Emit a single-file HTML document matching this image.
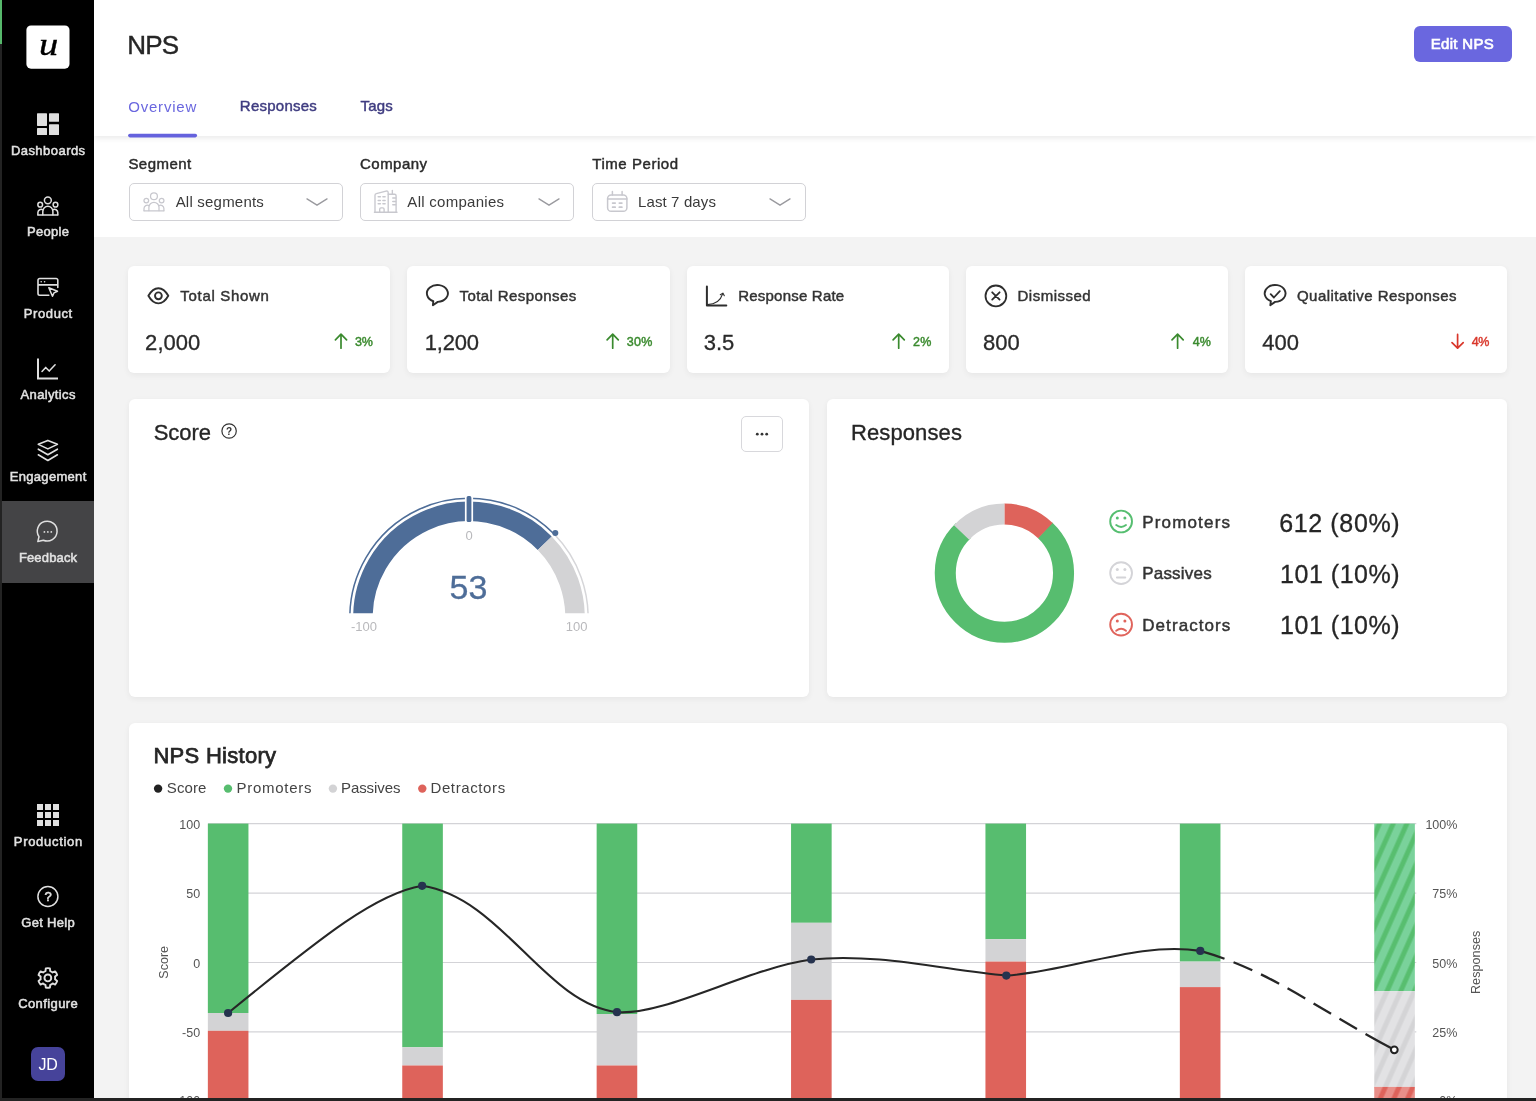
<!DOCTYPE html>
<html lang="en"><head><meta charset="utf-8"><title>NPS</title>
<style>
html,body{margin:0;padding:0}
body{width:1536px;height:1101px;overflow:hidden;position:relative;background:#f3f3f3;font-family:"Liberation Sans", "DejaVu Sans", sans-serif;-webkit-font-smoothing:antialiased}
.t{position:absolute;line-height:1;white-space:nowrap}
.abs{position:absolute}
.card{position:absolute;background:#fff;border-radius:6px;box-shadow:0 2px 6px rgba(0,0,0,0.055)}
.sel{position:absolute;box-sizing:border-box;height:38px;width:214px;border:1px solid #d2d2d6;border-radius:5px;background:#fff}
svg{position:absolute;overflow:visible}
nav .lbl{position:absolute;left:0;width:92px;text-align:center;font-size:13px;font-weight:normal;-webkit-text-stroke:0.5px #e2e2e2;color:#e2e2e2;line-height:1;white-space:nowrap}
</style></head><body>

<div class="abs" style="left:0;top:0;width:2px;height:1101px;background:#232323"></div>
<div class="abs" style="left:0;top:0;width:2px;height:43.5px;background:#56b86b"></div>
<nav class="abs" style="left:2px;top:0;width:92.3px;height:1101px;background:#000">
<svg style="left:-2px;top:0" width="10" height="10"><rect x="26.4" y="25.4" width="43.1" height="43.3" rx="4.6" fill="#fff"/></svg>
<span class="t" style="left:24.8px;width:43px;text-align:center;top:28px;font-family:'Liberation Serif','DejaVu Serif',serif;font-style:italic;font-size:32px;color:#000;-webkit-text-stroke:0.4px #000;transform:scaleX(1.2)">u</span>
<div class="abs" style="left:0;top:501.4px;width:92.3px;height:81.6px;background:#444446"></div>
<svg style="left:-2px;top:0" width="96" height="1101" viewBox="0 0 96 1101" fill="none" stroke="#e0e0e0" stroke-width="1.6" stroke-linecap="round" stroke-linejoin="round">
<g fill="#e0e0e0" stroke="none"><rect x="37" y="113.2" width="10" height="12.7" rx=".6"/><rect x="37" y="127.9" width="10" height="7.2" rx=".6"/><rect x="49" y="113.2" width="10" height="8.6" rx=".6"/><rect x="49" y="124.3" width="10" height="10.8" rx=".6"/></g>
<g transform="translate(37,195)" stroke="#e0e0e0" stroke-width="1.5"><circle cx="10.85" cy="5.35" r="3.45"/><circle cx="3.2" cy="9.7" r="2.35"/><circle cx="18.5" cy="9.7" r="2.35"/><path d="M5.8 19.8V16.4A5.05 5.05 0 0 1 15.9 16.4V19.8"/><path d="M0.9 19.8V17.6A3.3 3.3 0 0 1 5.9 14.8"/><path d="M20.8 19.8V17.6A3.3 3.3 0 0 0 15.8 14.8"/><path d="M0.9 19.9H20.8"/></g>
<path d="M57.8 287.4V280.2a1.7 1.7 0 0 0-1.7-1.7H39.7a1.7 1.7 0 0 0-1.7 1.7V293.6a1.7 1.7 0 0 0 1.7 1.7H48.8M38 284.85H57.8" stroke-width="1.6"/>
<circle cx="41.2" cy="281.8" r=".8" fill="#e0e0e0" stroke="none"/><circle cx="44.6" cy="281.8" r=".8" fill="#e0e0e0" stroke="none"/>
<path d="M48.8 287.7L57.5 291.3L54 292.9L52.5 296.2Z" stroke-width="1.5"/>
<path d="M38 358.6V378.6H58" stroke-width="2" stroke-linecap="butt" stroke-linejoin="miter"/><path d="M42 371.5L45.7 367.4L49.2 371.1L55.1 364.8" stroke-width="1.5"/>
<path d="M38.3 444.35L47.85 440.4L57.4 444.35L47.85 448.85Z"/><path d="M38.3 449.2L47.85 454.8L57.4 449.2"/><path d="M38.3 454.8L47.85 460.5L57.4 454.8"/>
<path d="M39.0 536.7A9.9 9.9 0 1 1 43.35 540.25L37.8 541.6Z" stroke-width="1.5"/>
<g fill="#e0e0e0" stroke="none"><circle cx="44.4" cy="531.9" r=".9"/><circle cx="47.85" cy="531.9" r=".9"/><circle cx="51.3" cy="531.9" r=".9"/></g>
<g fill="#e0e0e0" stroke="none"><rect x="37" y="804" width="6" height="6"/><rect x="45" y="804" width="6" height="6"/><rect x="53" y="804" width="6" height="6"/><rect x="37" y="812" width="6" height="6"/><rect x="45" y="812" width="6" height="6"/><rect x="53" y="812" width="6" height="6"/><rect x="37" y="820" width="6" height="6"/><rect x="45" y="820" width="6" height="6"/><rect x="53" y="820" width="6" height="6"/></g>
<circle cx="47.9" cy="896.5" r="10" stroke-width="1.5"/>
<path d="M45.47 971.05L45.81 968.36A9.8 9.8 0 0 1 49.89 968.36L50.23 971.05A7.3 7.3 0 0 1 52.64 972.44L52.64 972.44L55.13 971.39A9.8 9.8 0 0 1 57.17 974.92L55.02 976.56A7.3 7.3 0 0 1 55.02 979.34L55.02 979.34L57.17 980.98A9.8 9.8 0 0 1 55.13 984.51L52.64 983.46A7.3 7.3 0 0 1 50.23 984.85L50.23 984.85L49.89 987.54A9.8 9.8 0 0 1 45.81 987.54L45.47 984.85A7.3 7.3 0 0 1 43.06 983.46L43.06 983.46L40.57 984.51A9.8 9.8 0 0 1 38.53 980.98L40.68 979.34A7.3 7.3 0 0 1 40.68 976.56L40.68 976.56L38.53 974.92A9.8 9.8 0 0 1 40.57 971.39L43.06 972.44A7.3 7.3 0 0 1 45.47 971.05Z" stroke-width="1.9"/><circle cx="47.85" cy="977.95" r="3.4" stroke-width="1.9"/>
</svg>
<span class="lbl" style="top:144px;letter-spacing:0.46px;padding-left:0.46px;box-sizing:border-box">Dashboards</span>
<span class="lbl" style="top:225px;letter-spacing:0.311px;padding-left:0.311px;box-sizing:border-box">People</span>
<span class="lbl" style="top:307px;letter-spacing:0.577px;padding-left:0.577px;box-sizing:border-box">Product</span>
<span class="lbl" style="top:388px;letter-spacing:0.373px;padding-left:0.373px;box-sizing:border-box">Analytics</span>
<span class="lbl" style="top:470px;letter-spacing:0.315px;padding-left:0.315px;box-sizing:border-box">Engagement</span>
<span class="lbl" style="top:551px;letter-spacing:0.163px;padding-left:0.163px;box-sizing:border-box">Feedback</span>
<span class="lbl" style="top:835px;letter-spacing:0.694px;padding-left:0.694px;box-sizing:border-box">Production</span>
<span class="lbl" style="top:916px;letter-spacing:0.312px;padding-left:0.312px;box-sizing:border-box">Get Help</span>
<span class="lbl" style="top:997px;letter-spacing:0.419px;padding-left:0.419px;box-sizing:border-box">Configure</span>
<span class="lbl" style="top:890px;font-size:13px">?</span>
<div class="abs" style="left:29px;top:1046.5px;width:34px;height:34.3px;border-radius:7px;background:#46439a"></div>
<span class="lbl" style="top:1057px;font-size:16px;font-weight:normal;-webkit-text-stroke:0;color:#fff;letter-spacing:-0.3px">JD</span>
</nav>
<header class="abs" style="left:94.3px;top:0;width:1441.7px;height:136px;background:#fff;box-shadow:0 2px 6px rgba(0,0,0,0.09);z-index:2"></header>
<div class="abs" style="left:94.3px;top:0;width:1441.7px;height:237.3px;background:#fff"></div>
<div class="abs" style="z-index:3;left:0;top:0">
<span class="t " style="left:127.27px;top:32px;font-size:26px;font-weight:normal;color:#262626;letter-spacing:-0.827px;-webkit-text-stroke:0.4px #262626;">NPS</span>
<span class="t " style="left:128.24px;top:99px;font-size:15px;font-weight:normal;color:#6a67df;letter-spacing:0.786px;">Overview</span>
<span class="t " style="left:239.82px;top:98px;font-size:15px;font-weight:normal;color:#3f3c80;-webkit-text-stroke:0.45px #3f3c80;letter-spacing:0.241px;">Responses</span>
<span class="t " style="left:360.52px;top:98px;font-size:15px;font-weight:normal;color:#3f3c80;-webkit-text-stroke:0.45px #3f3c80;letter-spacing:0.197px;">Tags</span>
<svg style="left:0;top:0" width="10" height="10"><rect x="128.1" y="133.8" width="69" height="3.6" rx="1.8" fill="#6562dd"/></svg>
<div class="abs" style="left:1413.5px;top:25.5px;width:98px;height:36.8px;border-radius:6px;background:#6a67df"></div>
<span class="t " style="left:1430.67px;top:36px;font-size:15px;font-weight:normal;color:#fff;letter-spacing:0.321px;-webkit-text-stroke:0.65px #fff;">Edit NPS</span>
</div>
<section class="abs" style="left:0;top:0;z-index:1">
<span class="t " style="left:128.38px;top:156px;font-size:15px;font-weight:normal;color:#2b2b2b;-webkit-text-stroke:0.45px #2b2b2b;letter-spacing:0.473px;">Segment</span><div class="sel" style="left:128.6px;top:182.6px"></div><span class="t " style="left:175.67px;top:194px;font-size:15px;font-weight:normal;color:#3a3a3a;letter-spacing:0.209px;">All segments</span><svg style="left:306.0px;top:198.2px" width="22" height="9" viewBox="0 0 22 9" fill="none" stroke="#9a9a9f" stroke-width="1.4" stroke-linecap="round" stroke-linejoin="round"><path d="M1 0.9L11 7.2L21 0.9"/></svg><svg style="left:0;top:0" width="10" height="10" fill="none" stroke-linecap="round" stroke-linejoin="round"><g transform="translate(143.1,190.9)" stroke="#c8c8ce" stroke-width="1.25"><circle cx="10.85" cy="5.35" r="3.45"/><circle cx="3.2" cy="9.7" r="2.35"/><circle cx="18.5" cy="9.7" r="2.35"/><path d="M5.8 19.8V16.4A5.05 5.05 0 0 1 15.9 16.4V19.8"/><path d="M0.9 19.8V17.6A3.3 3.3 0 0 1 5.9 14.8"/><path d="M20.8 19.8V17.6A3.3 3.3 0 0 0 15.8 14.8"/><path d="M0.9 19.9H20.8"/></g></svg>
<span class="t " style="left:360.00px;top:156px;font-size:15px;font-weight:normal;color:#2b2b2b;-webkit-text-stroke:0.45px #2b2b2b;letter-spacing:0.48px;">Company</span><div class="sel" style="left:360.3px;top:182.6px"></div><span class="t " style="left:407.37px;top:194px;font-size:15px;font-weight:normal;color:#3a3a3a;letter-spacing:0.275px;">All companies</span><svg style="left:537.7px;top:198.2px" width="22" height="9" viewBox="0 0 22 9" fill="none" stroke="#9a9a9f" stroke-width="1.4" stroke-linecap="round" stroke-linejoin="round"><path d="M1 0.9L11 7.2L21 0.9"/></svg><svg style="left:0;top:0" width="10" height="10" fill="none" stroke="#c8c8ce" stroke-width="1.35" stroke-linecap="round" stroke-linejoin="round"><path d="M375 212.1V195.2Q375 193.9 376.3 193.6L386 191.1Q388.2 190.6 388.2 193V212.1"/><path d="M388.2 194.2H394.6Q396.1 194.2 396.1 195.7V212.1"/><path d="M392.35 190.5V194.2"/><path d="M374.4 212.2H397"/><path d="M379.7 212V209.2Q379.7 207.8 381 207.8H382.8Q384.1 207.8 384.1 209.2V212"/><path d="M378.2 196.8H380.4M382.9 196.8H385.1M378.2 200.4H380.4M382.9 200.4H385.1M378.2 203.7H380.4M382.9 203.7H385.1" stroke-width="1.5"/><path d="M392.8 197.9H395.6M392.8 201.5H395.6M392.8 204.8H395.6" stroke-width="1.5"/></svg>
<span class="t " style="left:592.32px;top:156px;font-size:15px;font-weight:normal;color:#2b2b2b;-webkit-text-stroke:0.45px #2b2b2b;letter-spacing:0.539px;">Time Period</span><div class="sel" style="left:591.6px;top:182.6px"></div><span class="t " style="left:637.97px;top:194px;font-size:15px;font-weight:normal;color:#3a3a3a;letter-spacing:0.126px;">Last 7 days</span><svg style="left:769.0px;top:198.2px" width="22" height="9" viewBox="0 0 22 9" fill="none" stroke="#9a9a9f" stroke-width="1.4" stroke-linecap="round" stroke-linejoin="round"><path d="M1 0.9L11 7.2L21 0.9"/></svg><svg style="left:0;top:0" width="10" height="10" fill="none" stroke="#c8c8ce" stroke-width="1.5" stroke-linecap="round" stroke-linejoin="round"><rect x="607.6" y="194.9" width="19.3" height="16.45" rx="3.6"/><path d="M607.6 198.9H626.9"/><path d="M612.4 191.4V194.9M622.1 191.4V194.9"/><path d="M612.6 203.1H615.2M619.3 203.1H621.9M612.6 207.15H615.2M619.3 207.15H621.9" stroke-width="1.7"/></svg>
</section>
<section class="abs" style="left:0;top:0">
<div class="card" style="left:128.2px;top:266.1px;width:262.3px;height:107.1px"></div><span class="t " style="left:180.32px;top:288px;font-size:15px;font-weight:normal;color:#333;-webkit-text-stroke:0.45px #333;letter-spacing:0.687px;">Total Shown</span><span class="t " style="left:145.10px;top:332px;font-size:22px;font-weight:normal;color:#2a2a2a;letter-spacing:0.048px;-webkit-text-stroke:0.3px #2a2a2a;">2,000</span><span class="t " style="left:354.97px;top:336px;font-size:12.5px;font-weight:normal;color:#3a8a2e;-webkit-text-stroke:0.45px #3a8a2e;letter-spacing:-0.05px;">3%</span>
<div class="card" style="left:407.4px;top:266.1px;width:262.3px;height:107.1px"></div><span class="t " style="left:459.52px;top:288px;font-size:15px;font-weight:normal;color:#333;-webkit-text-stroke:0.45px #333;letter-spacing:0.412px;">Total Responses</span><span class="t " style="left:424.73px;top:332px;font-size:22px;font-weight:normal;color:#2a2a2a;letter-spacing:-0.184px;-webkit-text-stroke:0.3px #2a2a2a;">1,200</span><span class="t " style="left:626.77px;top:336px;font-size:12.5px;font-weight:normal;color:#3a8a2e;-webkit-text-stroke:0.45px #3a8a2e;letter-spacing:0.25px;">30%</span>
<div class="card" style="left:686.6px;top:266.1px;width:262.3px;height:107.1px"></div><span class="t " style="left:738.22px;top:288px;font-size:15px;font-weight:normal;color:#333;-webkit-text-stroke:0.45px #333;letter-spacing:0.216px;">Response Rate</span><span class="t " style="left:703.76px;top:332px;font-size:22px;font-weight:normal;color:#2a2a2a;letter-spacing:-0.021px;-webkit-text-stroke:0.3px #2a2a2a;">3.5</span><span class="t " style="left:913.12px;top:336px;font-size:12.5px;font-weight:normal;color:#3a8a2e;-webkit-text-stroke:0.45px #3a8a2e;letter-spacing:0.3px;">2%</span>
<div class="card" style="left:965.8px;top:266.1px;width:262.3px;height:107.1px"></div><span class="t " style="left:1017.52px;top:288px;font-size:15px;font-weight:normal;color:#333;-webkit-text-stroke:0.45px #333;letter-spacing:0.489px;">Dismissed</span><span class="t " style="left:982.95px;top:332px;font-size:22px;font-weight:normal;color:#2a2a2a;letter-spacing:-0.007px;-webkit-text-stroke:0.3px #2a2a2a;">800</span><span class="t " style="left:1192.77px;top:336px;font-size:12.5px;font-weight:normal;color:#3a8a2e;-webkit-text-stroke:0.45px #3a8a2e;letter-spacing:-0.05px;">4%</span>
<div class="card" style="left:1245.0px;top:266.1px;width:262.3px;height:107.1px"></div><span class="t " style="left:1296.95px;top:288px;font-size:15px;font-weight:normal;color:#333;-webkit-text-stroke:0.45px #333;letter-spacing:0.478px;">Qualitative Responses</span><span class="t " style="left:1262.32px;top:332px;font-size:22px;font-weight:normal;color:#2a2a2a;letter-spacing:-0.038px;-webkit-text-stroke:0.3px #2a2a2a;">400</span><span class="t " style="left:1471.67px;top:336px;font-size:12.5px;font-weight:normal;color:#d9372b;-webkit-text-stroke:0.45px #d9372b;letter-spacing:-0.45px;">4%</span>
</section>
<svg style="left:0;top:0" width="10" height="10" fill="none" stroke="#2e2e2e" stroke-width="1.9" stroke-linecap="round" stroke-linejoin="round">
<path d="M148.4 295.8C151.3 290.6 154.7 288.2 158.4 288.2C162.1 288.2 165.4 290.6 168.3 295.8C165.4 301 162.1 303.4 158.4 303.4C154.7 303.4 151.3 301 148.4 295.8Z"/><circle cx="158.4" cy="295.8" r="3.4"/>
<path d="M433.30 301.23A10.5 8.45 0 1 1 437.77 301.89L432.9 305.3Z"/>
<path d="M706.9 286.6V305.5H726.3" stroke-width="2"/><path d="M707.5 304.6Q719.5 304.2 722.5 294.2" stroke-width="1.15"/><path d="M720.3 294.7L722.9 293.1L724.3 295.7" stroke-width="1.1"/>
<circle cx="995.9" cy="295.9" r="10.4" stroke-width="1.8"/><path d="M992.2 292.3L999.6 299.6M999.6 292.3L992.2 299.6" stroke-width="1.8"/>
<path d="M1270.87 301.17A10.4 8.45 0 1 1 1275.10 301.90L1270.3 305.3Z"/><path d="M1270.7 294.2L1273.9 297.5L1279.8 291.2" stroke-width="1.8"/>
</svg>
<svg style="left:0;top:0" width="10" height="10" fill="none" stroke-width="1.7" stroke-linecap="round" stroke-linejoin="round">
<path d="M341 348.2V334.2M335.4 339.8L341 334.2L346.6 339.8" stroke="#3a8a2e"/>
<path d="M612.7 348.2V334.2M607.1 339.8L612.7 334.2L618.3000000000001 339.8" stroke="#3a8a2e"/>
<path d="M898.7 348.2V334.2M893.1 339.8L898.7 334.2L904.3000000000001 339.8" stroke="#3a8a2e"/>
<path d="M1177.6 348.2V334.2M1172.0 339.8L1177.6 334.2L1183.1999999999998 339.8" stroke="#3a8a2e"/>
<path d="M1457.6 334.4V348.2M1452.0 342.6L1457.6 348.2L1463.1999999999998 342.6" stroke="#d9372b"/>
</svg>
<section class="card" style="left:128.5px;top:399px;width:680.5px;height:297.6px"></section>
<span class="t " style="left:153.71px;top:422px;font-size:22px;font-weight:normal;color:#262626;letter-spacing:-0.076px;-webkit-text-stroke:0.35px #262626;">Score</span>
<svg style="left:0;top:0" width="10" height="10" fill="none" stroke="#333" stroke-width="1.2"><circle cx="229.1" cy="431" r="7.2"/></svg>
<span class="t " style="left:221.10px;top:427px;font-size:10px;font-weight:bold;color:#333;width:16px;text-align:center;">?</span>
<div class="abs" style="box-sizing:border-box;left:740.8px;top:416.4px;width:42.4px;height:35.6px;border:1px solid #d8d8dc;border-radius:5px;background:#fff"></div>
<svg style="left:0;top:0" width="10" height="10" fill="#333"><circle cx="757.3" cy="434.2" r="1.4"/><circle cx="762" cy="434.2" r="1.4"/><circle cx="766.7" cy="434.2" r="1.4"/></svg>
<svg style="left:0;top:0" width="10" height="10" fill="none">
<defs><clipPath id="gclip"><rect x="340" y="480" width="260" height="133.3"/></clipPath></defs>
<g clip-path="url(#gclip)">
<path d="M363.38 626.64A106.025 106.025 0 0 1 544.75 543.22" stroke="#4e6d98" stroke-width="19.5"/>
<path d="M544.75 543.22A106.025 106.025 0 0 1 574.62 626.64" stroke="#d3d3d5" stroke-width="19.5"/>
<path d="M350.35 627.78A119.1 119.1 0 0 1 554.09 534.07" stroke="#4e6d98" stroke-width="1.5"/>
<path d="M554.09 534.07A119.1 119.1 0 0 1 587.65 627.78" stroke="#d6d6d9" stroke-width="1.5"/>
</g>
<rect x="464.9" y="494.5" width="8.2" height="29" fill="#fff"/>
<rect x="466.6" y="496.1" width="4.8" height="25.9" rx="1.6" fill="#4e6d98"/>
<circle cx="555.31" cy="532.88" r="3" fill="#4e6d98"/>
<g font-family='"Liberation Sans", "DejaVu Sans", sans-serif' fill="#b9b9bc" font-size="13"><text x="469" y="540.3" text-anchor="middle">0</text><text x="351" y="631.3">-100</text><text x="587.4" y="630.6" text-anchor="end">100</text></g>
<text x="468.4" y="598.8" text-anchor="middle" font-family='"Liberation Sans", "DejaVu Sans", sans-serif' font-size="34" fill="#4e6d98" stroke="#4e6d98" stroke-width="0.3">53</text>
</svg>
<section class="card" style="left:827px;top:399px;width:679.7px;height:297.6px"></section>
<span class="t " style="left:851.00px;top:422px;font-size:22px;font-weight:normal;color:#262626;letter-spacing:0.104px;-webkit-text-stroke:0.35px #262626;">Responses</span>
<svg style="left:0;top:0" width="10" height="10" fill="none">
<path d="M1045.02 530.24A59.12 59.12 0 1 1 963.33 530.67" stroke="#57bd6f" stroke-width="21.05"/>
<path d="M1004.40 514.08A59.12 59.12 0 0 1 1045.40 530.60" stroke="#de635b" stroke-width="21.05"/>
<path d="M961.58 532.43A59.12 59.12 0 0 1 1004.40 514.08" stroke="#d3d3d5" stroke-width="21.05"/>
<g stroke="#56be70" stroke-width="1.9" stroke-linecap="round"><circle cx="1121.1" cy="521.5" r="10.9"/><circle cx="1117.3" cy="517.9" r="1.5" fill="#56be70" stroke="none"/><circle cx="1124.8999999999999" cy="517.9" r="1.5" fill="#56be70" stroke="none"/><path d="M1116.1999999999998 525.1Q1121.1 528.9 1126.0 525.1"/></g>
<g stroke="#d4d4d8" stroke-width="1.9" stroke-linecap="round"><circle cx="1121.1" cy="573.1" r="10.9"/><circle cx="1117.3" cy="569.5" r="1.5" fill="#d4d4d8" stroke="none"/><circle cx="1124.8999999999999" cy="569.5" r="1.5" fill="#d4d4d8" stroke="none"/><path d="M1116.8999999999999 577.5H1125.3"/></g>
<g stroke="#e0645c" stroke-width="1.9" stroke-linecap="round"><circle cx="1121.1" cy="624.6" r="10.9"/><circle cx="1117.3" cy="621.0" r="1.5" fill="#e0645c" stroke="none"/><circle cx="1124.8999999999999" cy="621.0" r="1.5" fill="#e0645c" stroke="none"/><path d="M1116.1999999999998 630.8000000000001Q1121.1 626.8000000000001 1126.0 630.8000000000001"/></g>
</svg>
<span class="t " style="left:1142.16px;top:514px;font-size:17px;font-weight:normal;color:#333;-webkit-text-stroke:0.45px #333;letter-spacing:1.175px;">Promoters</span>
<span class="t " style="left:1279.15px;top:511px;font-size:25px;font-weight:normal;color:#262626;letter-spacing:0.644px;-webkit-text-stroke:0.3px #262626;">612 (80%)</span>
<span class="t " style="left:1142.16px;top:565px;font-size:17px;font-weight:normal;color:#333;-webkit-text-stroke:0.45px #333;letter-spacing:0.213px;">Passives</span>
<span class="t " style="left:1280.00px;top:562px;font-size:25px;font-weight:normal;color:#262626;letter-spacing:0.537px;-webkit-text-stroke:0.3px #262626;">101 (10%)</span>
<span class="t " style="left:1142.16px;top:617px;font-size:17px;font-weight:normal;color:#333;-webkit-text-stroke:0.45px #333;letter-spacing:1.089px;">Detractors</span>
<span class="t " style="left:1280.00px;top:613px;font-size:25px;font-weight:normal;color:#262626;letter-spacing:0.537px;-webkit-text-stroke:0.3px #262626;">101 (10%)</span>
<section class="card" style="left:128.5px;top:723px;width:1378.2px;height:420px"></section>
<span class="t " style="left:153.40px;top:745px;font-size:22px;font-weight:normal;color:#262626;letter-spacing:0.286px;-webkit-text-stroke:0.75px #262626;">NPS History</span>
<svg style="left:0;top:0" width="10" height="10"><circle cx="158.1" cy="788.6" r="4.2" fill="#222"/><circle cx="228" cy="788.6" r="4.2" fill="#57bd6f"/><circle cx="332.9" cy="788.6" r="4.2" fill="#d3d3d5"/><circle cx="422.3" cy="788.6" r="4.2" fill="#de635b"/></svg>
<span class="t " style="left:166.82px;top:780px;font-size:15px;font-weight:normal;color:#444;letter-spacing:0.114px;">Score</span>
<span class="t " style="left:236.47px;top:780px;font-size:15px;font-weight:normal;color:#444;letter-spacing:0.724px;">Promoters</span>
<span class="t " style="left:340.97px;top:780px;font-size:15px;font-weight:normal;color:#444;letter-spacing:-0.064px;">Passives</span>
<span class="t " style="left:430.47px;top:780px;font-size:15px;font-weight:normal;color:#444;letter-spacing:0.61px;">Detractors</span>
<svg style="left:0;top:0" width="1536" height="1101" viewBox="0 0 1536 1101">
<defs>
<pattern id="pg" patternUnits="userSpaceOnUse" width="12.5" height="12" patternTransform="translate(1393.2 823.6) rotate(24)"><rect width="12.5" height="12" fill="#7ad29b"/><rect x="0" width="2.45" height="12" fill="#58be6f"/><rect x="10.05" width="2.45" height="12" fill="#58be6f"/></pattern>
<pattern id="ps" patternUnits="userSpaceOnUse" width="12.5" height="12" patternTransform="translate(1393.2 823.6) rotate(24)"><rect width="12.5" height="12" fill="#e2e2e4"/><rect x="0" width="2.45" height="12" fill="#d4d4d6"/><rect x="10.05" width="2.45" height="12" fill="#d4d4d6"/></pattern>
<pattern id="pr" patternUnits="userSpaceOnUse" width="12.5" height="12" patternTransform="translate(1393.2 823.6) rotate(24)"><rect width="12.5" height="12" fill="#e98f89"/><rect x="0" width="2.45" height="12" fill="#de635b"/><rect x="10.05" width="2.45" height="12" fill="#de635b"/></pattern>
</defs>
<path d="M208 823.60H1416.3" stroke="#d3d3d7" stroke-width="1.2"/>
<path d="M208 893.05H1416.3" stroke="#d3d3d7" stroke-width="1.2"/>
<path d="M208 962.50H1416.3" stroke="#d3d3d7" stroke-width="1.2"/>
<path d="M208 1031.95H1416.3" stroke="#d3d3d7" stroke-width="1.2"/>
<path d="M208 1101.40H1416.3" stroke="#d3d3d7" stroke-width="1.2"/>
<rect x="207.85" y="823.60" width="40.6" height="189.40" fill="#57bd6f"/>
<rect x="207.85" y="1013.00" width="40.6" height="17.80" fill="#d3d3d5"/>
<rect x="207.85" y="1030.80" width="40.6" height="70.20" fill="#de635b"/>
<rect x="402.25" y="823.60" width="40.6" height="223.70" fill="#57bd6f"/>
<rect x="402.25" y="1047.30" width="40.6" height="18.20" fill="#d3d3d5"/>
<rect x="402.25" y="1065.50" width="40.6" height="35.50" fill="#de635b"/>
<rect x="596.65" y="823.60" width="40.6" height="190.40" fill="#57bd6f"/>
<rect x="596.65" y="1014.00" width="40.6" height="51.50" fill="#d3d3d5"/>
<rect x="596.65" y="1065.50" width="40.6" height="35.50" fill="#de635b"/>
<rect x="791.05" y="823.60" width="40.6" height="99.20" fill="#57bd6f"/>
<rect x="791.05" y="922.80" width="40.6" height="77.10" fill="#d3d3d5"/>
<rect x="791.05" y="999.90" width="40.6" height="101.10" fill="#de635b"/>
<rect x="985.45" y="823.60" width="40.6" height="115.60" fill="#57bd6f"/>
<rect x="985.45" y="939.20" width="40.6" height="22.40" fill="#d3d3d5"/>
<rect x="985.45" y="961.60" width="40.6" height="139.40" fill="#de635b"/>
<rect x="1179.85" y="823.60" width="40.6" height="138.00" fill="#57bd6f"/>
<rect x="1179.85" y="961.60" width="40.6" height="25.50" fill="#d3d3d5"/>
<rect x="1179.85" y="987.10" width="40.6" height="113.90" fill="#de635b"/>
<rect x="1374.25" y="823.60" width="40.6" height="167.60" fill="url(#pg)"/>
<rect x="1374.25" y="991.20" width="40.6" height="95.70" fill="url(#ps)"/>
<rect x="1374.25" y="1086.90" width="40.6" height="14.10" fill="url(#pr)"/>
<path d="M228.1 1013.0C325.5 933.6 377.1 893.3 422.1 885.8C502.2 897.9 545.0 1003.8 617.0 1012.2C665.3 1015.9 747.0 968.4 811.2 959.5C877.5 952.6 945.0 970.1 1006.3 975.6C1069.3 971.7 1138.7 941.0 1200.3 950.9" fill="none" stroke="#262626" stroke-width="2.1" stroke-linejoin="round"/>
<path d="M1200.3 950.9C1272.9 971.8 1314.5 1007.5 1394.3 1049.8" fill="none" stroke="#262626" stroke-width="2.3" stroke-dasharray="25.4 9.6 20.5 9.6 20.5 9.6 20.5 9.6 20.5 9.6 20.5 9.6 200"/>
<circle cx="228.1" cy="1013.0" r="4.1" fill="#26334f"/>
<circle cx="422.1" cy="885.8" r="4.1" fill="#26334f"/>
<circle cx="617.0" cy="1012.2" r="4.1" fill="#26334f"/>
<circle cx="811.2" cy="959.5" r="4.1" fill="#26334f"/>
<circle cx="1006.3" cy="975.6" r="4.1" fill="#26334f"/>
<circle cx="1200.3" cy="950.9" r="4.1" fill="#26334f"/>
<circle cx="1394.3" cy="1049.8" r="3.4" fill="#fff" stroke="#222" stroke-width="2"/>
<g font-family='"Liberation Sans", "DejaVu Sans", sans-serif' font-size="12.5" fill="#555">
<text x="200.2" y="829.00" text-anchor="end">100</text>
<text x="200.2" y="898.45" text-anchor="end">50</text>
<text x="200.2" y="967.90" text-anchor="end">0</text>
<text x="200.2" y="1037.35" text-anchor="end">-50</text>
<text x="200.2" y="1105.40" text-anchor="end">-100</text>
<text x="1457.4" y="829.00" text-anchor="end">100%</text>
<text x="1457.4" y="898.45" text-anchor="end">75%</text>
<text x="1457.4" y="967.90" text-anchor="end">50%</text>
<text x="1457.4" y="1037.35" text-anchor="end">25%</text>
<text x="1457.4" y="1105.40" text-anchor="end">0%</text>
<text transform="translate(167.6 962.3) rotate(-90)" text-anchor="middle" font-size="12.5">Score</text>
<text transform="translate(1479.6 962.3) rotate(-90)" text-anchor="middle" font-size="12.5" letter-spacing="0.1">Responses</text>
</g>
</svg>
<div class="abs" style="left:0;top:1097.9px;width:1536px;height:3.2px;background:#232323;z-index:5"></div>
</body></html>
